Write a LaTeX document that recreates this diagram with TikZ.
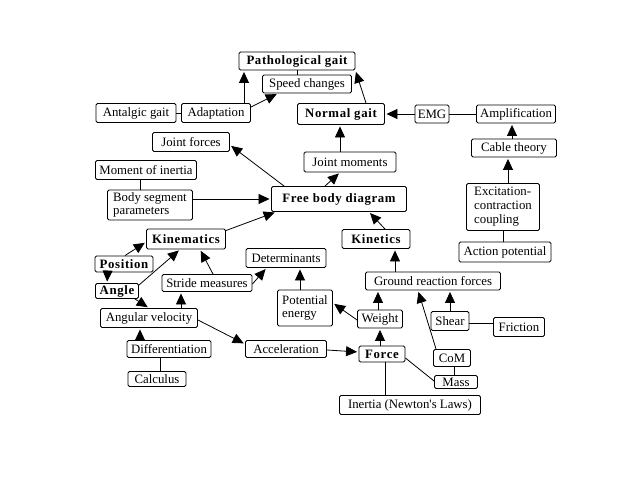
\documentclass[tikz,border=0pt]{standalone}
\usepackage{fontspec}
\setmainfont{Liberation Serif}[BoldFeatures={LetterSpace=5}]
\usetikzlibrary{calc,arrows.meta}
\tikzset{
  box/.style={draw, line width=0.9pt, rounded corners=1.5pt, inner sep=1pt, font=\fontsize{12.8}{13}\selectfont, fill=white},
  bbox/.style={box, font=\fontsize{12.8}{13}\selectfont\bfseries},
  arr/.style={line width=0.8pt, -{Triangle[length=11pt,width=10pt]}, shorten >=1.5pt},
  ln/.style={line width=0.8pt},
}
\begin{document}
\begin{tikzpicture}[x=1pt,y=-1pt]
\useasboundingbox (0,0) rectangle (638,478);
\node[bbox, minimum width=116, minimum height=18] (patho) at (297,61) {Pathological gait};
\node[box, minimum width=89, minimum height=18] (speed) at (307,84) {Speed changes};
\node[box, minimum width=80, minimum height=19] (antalgic) at (136,113) {Antalgic gait};
\node[box, minimum width=69, minimum height=19] (adapt) at (216,113) {Adaptation};
\node[bbox, minimum width=87, minimum height=21] (normal) at (341,114) {Normal gait};
\node[box, minimum width=34, minimum height=18] (emg) at (432,114) {EMG};
\node[box, minimum width=79, minimum height=18] (ampl) at (516,114) {Amplification};
\node[box, minimum width=77, minimum height=19] (jforces) at (191,142) {Joint forces};
\node[box, minimum width=85, minimum height=18] (cable) at (514,148) {Cable theory};
\node[box, minimum width=92, minimum height=20] (jmom) at (350,162) {Joint moments};
\node[box, minimum width=101, minimum height=19] (moi) at (146,170) {Moment of inertia};
\node[box, minimum width=85, minimum height=30, align=left, font=\fontsize{12.8}{12.5}\selectfont] (bsp) at (150,205) {Body segment\\parameters};
\node[bbox, minimum width=135, minimum height=25] (fbd) at (339,199) {Free body diagram};
\node[box, minimum width=73, minimum height=47, align=left, font=\fontsize{12.8}{14}\selectfont] (exc) at (503,207) {Excitation-\\contraction\\coupling};
\node[bbox, minimum width=68, minimum height=19] (kinetics) at (376,239) {Kinetics};
\node[bbox, minimum width=79, minimum height=20] (kinematics) at (186,239) {Kinematics};
\node[box, minimum width=92, minimum height=20] (ap) at (505,252) {Action potential};
\node[box, minimum width=80, minimum height=19] (determ) at (286,258) {Determinants};
\node[bbox, minimum width=58, minimum height=16] (position) at (124,264) {Position};
\node[box, minimum width=135, minimum height=18] (grf) at (433,281) {Ground reaction forces};
\node[box, minimum width=90, minimum height=17] (stride) at (207,283) {Stride measures};
\node[bbox, minimum width=43, minimum height=15] (angle) at (117,291) {Angle};
\node[box, minimum width=55, minimum height=36, align=left, font=\fontsize{12.8}{13.5}\selectfont] (pe) at (305,308) {Potential\\energy};
\node[box, minimum width=45, minimum height=18] (weight) at (380,319) {Weight};
\node[box, minimum width=38, minimum height=19] (shear) at (450,321) {Shear};
\node[box, minimum width=51, minimum height=19] (friction) at (519,327) {Friction};
\node[box, minimum width=97, minimum height=19] (angvel) at (149,318) {Angular velocity};
\node[box, minimum width=84, minimum height=17] (diff) at (169,349) {Differentiation};
\node[box, minimum width=81, minimum height=17] (accel) at (286,349) {Acceleration};
\node[bbox, minimum width=46, minimum height=16] (force) at (382,354) {Force};
\node[box, minimum width=37, minimum height=17] (com) at (452,358) {CoM};
\node[box, minimum width=43, minimum height=13] (mass) at (456,382) {Mass};
\node[box, minimum width=58, minimum height=15] (calculus) at (157,379) {Calculus};
\node[box, minimum width=141, minimum height=19] (inertia) at (410,405) {Inertia (Newton\textquotesingle s Laws)};

% anchor points for connectors
\coordinate (c1) at ($(adapt.north)+(28,0)$);
\coordinate (c2) at ($(cable.north)+(-2,0)$);
\coordinate (c3) at ($(exc.north)+(5,0)$);
\coordinate (c4) at ($(jmom.north)+(-10,0)$);
\coordinate (c5) at ($(moi.south)+(-6,0)$);
\coordinate (c6) at ($(angvel.north)+(32,0)$);
\coordinate (c7) at ($(diff.north)+(-29,0)$);
\coordinate (c8) at ($(calculus.north)+(3,0)$);
\coordinate (c9) at ($(force.north)+(-2,0)$);
\coordinate (c10) at ($(pe.north)+(-5,0)$);
\coordinate (c11) at ($(weight.north)+(-2,0)$);
\coordinate (c12) at ($(grf.north)+(-38,0)$);
\coordinate (c13) at ($(shear.east)+(0,2)$);
\coordinate (c14) at ($(com.south)+(2,0)$);
\coordinate (c15) at ($(force.south)+(3,0)$);
\coordinate (c16) at ($(bsp.east)+(0,-6)$);

% connectors
\draw[arr] (c1) -- (c1 |- patho.south);
\draw[arr] ($(adapt.east)+(0,-6)$) -- ($(speed.south)+(-29,0)$);
\draw[ln] (patho.south) -- (patho.south |- speed.north);
\draw[arr] ($(normal.north)+(25,0)$) -- (patho.south east);
\draw[ln] (antalgic.east) -- (adapt.west);
\draw[arr] (emg.west) -- (normal.east);
\draw[ln] (emg.east) -- (ampl.west);
\draw[arr] (c2) -- (c2 |- ampl.south);
\draw[arr] (c3) -- (c3 |- cable.south);
\draw[ln] (ap.north -| exc.south) -- (exc.south);
\draw[arr] (c4) -- (c4 |- normal.south);
\draw[arr] ($(fbd.north)+(-14,0)$) -- ($(jmom.south)+(-10,0)$);
\draw[arr] ($(fbd.north west)+(13,0)$) -- ($(jforces.east)+(0,3)$);
\draw[ln] (c5) -- (c5 |- bsp.north);
\draw[arr] (c16) -- (c16 -| fbd.west);
\draw[arr] ($(kinematics.north east)+(0,2)$) -- ($(fbd.south west)+(5,0)$);
\draw[arr] ($(kinetics.north)+(9,0)$) -- ($(fbd.south)+(30,0)$);
\draw[arr] ($(position.north)+(1,0)$) -- ($(kinematics.west)+(0,3)$);
\draw[arr] ($(position.south west)+(13,0)$) -- ($(angle.north west)+(12,0)$);
\draw[arr] ($(angle.north east)+(0,2)$) -- ($(kinematics.south)+(-6,0)$);
\draw[arr] ($(stride.north)+(6,0)$) -- ($(kinematics.south)+(14,0)$);
\draw[arr] ($(stride.east)+(0,1)$) -- ($(determ.south west)+(21,0)$);
\draw[arr] ($(angle.south east)+(-4,0)$) -- (angvel.north);
\draw[arr] (c6) -- (c6 |- stride.south);
\draw[arr] (c7) -- (c7 |- angvel.south);
\draw[ln] (c8) -- (c8 |- diff.south);
\draw[arr] ($(angvel.east)+(0,2)$) -- ($(accel.north west)+(0,4)$);
\draw[arr] ($(accel.east)+(0,1)$) -- ($(force.west)+(0,-2)$);
\draw[arr] (c9) -- (c9 |- weight.south);
\draw[arr] ($(weight.west)+(0,1)$) -- ($(pe.east)+(0,-5)$);
\draw[arr] (c10) -- (c10 |- determ.south);
\draw[arr] (c11) -- (c11 |- grf.south);
\draw[arr] (c12) -- (c12 |- kinetics.south);
\draw[arr] (shear.north) -- (shear.north |- grf.south);
\draw[ln] (c13) -- (c13 -| friction.west);
\draw[arr] ($(com.north west)+(3,0)$) -- ($(grf.south)+(-15,0)$);
\draw[ln] (c14) -- (c14 |- mass.north);
\draw[ln] ($(force.east)+(0,4)$) -- ($(mass.west)+(0,-1)$);
\draw[ln] (c15) -- (c15 |- inertia.north);
\end{tikzpicture}
\end{document}
